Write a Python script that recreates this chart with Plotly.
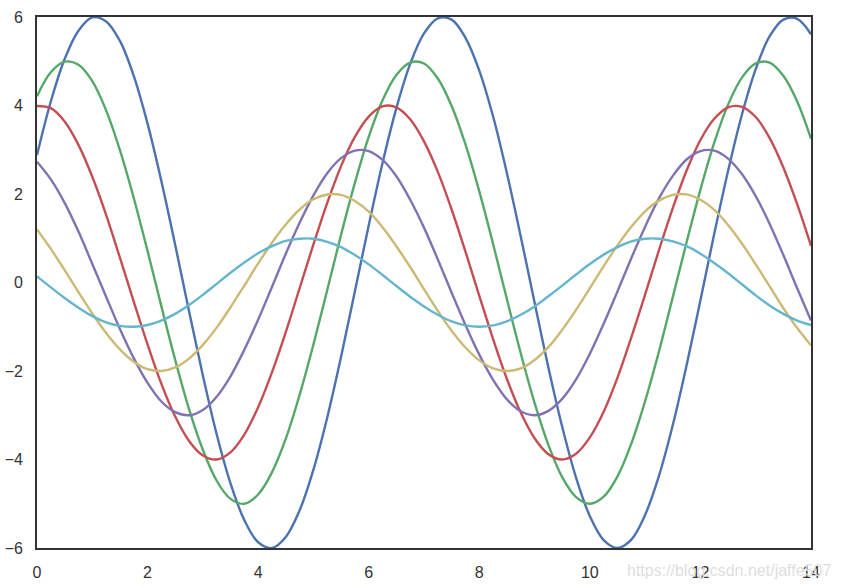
import plotly.graph_objects as go

x_vals = [i * 0.25 for i in range(57)]

s1 = [2.88, 4.09, 5.05, 5.69, 5.99, 5.90, 5.46, 4.67, 3.59, 2.29, 0.85, -0.65, -2.10, -3.43, -4.54,
      -5.37, -5.87, -6.00, -5.75, -5.15, -4.23, -3.05, -1.68, -0.20, 1.29, 2.70, 3.94, 4.94, 5.63,
      5.97, 5.94, 5.53, 4.79, 3.75, 2.47, 1.04, -0.45, -1.92, -3.26, -4.41, -5.28, -5.82, -6.00,
      -5.81, -5.25, -4.37, -3.22, -1.87, -0.40, 1.10, 2.52, 3.79, 4.82, 5.56, 5.94, 5.96, 5.61]
s2 = [4.21, 4.75, 4.99, 4.92, 4.55, 3.89, 2.99, 1.91, 0.71, -0.54, -1.75, -2.86, -3.78, -4.48, -4.89,
      -5.00, -4.79, -4.29, -3.53, -2.54, -1.40, -0.17, 1.08, 2.25, 3.29, 4.12, 4.69, 4.97, 4.95,
      4.61, 3.99, 3.12, 2.06, 0.87, -0.38, -1.60, -2.72, -3.67, -4.40, -4.85, -5.00, -4.84, -4.38,
      -3.64, -2.68, -1.56, -0.33, 0.91, 2.10, 3.16, 4.02, 4.63, 4.95, 4.97, 4.67, 4.09, 3.25]
s3 = [3.99, 3.94, 3.64, 3.11, 2.39, 1.53, 0.56, -0.43, -1.40, -2.29, -3.03, -3.58, -3.91, -4.00, -3.84,
      -3.44, -2.82, -2.03, -1.12, -0.13, 0.86, 1.80, 2.63, 3.29, 3.75, 3.98, 3.96, 3.69, 3.19,
      2.50, 1.65, 0.70, -0.30, -1.28, -2.18, -2.94, -3.52, -3.88, -4.00, -3.87, -3.50, -2.92, -2.15,
      -1.24, -0.27, 0.73, 1.68, 2.53, 3.22, 3.70, 3.96, 3.97, 3.74, 3.27, 2.60, 1.77, 0.83]
s4 = [2.73, 2.33, 1.80, 1.15, 0.42, -0.32, -1.05, -1.71, -2.27, -2.69, -2.93, -3.00, -2.88, -2.58, -2.12,
      -1.52, -0.84, -0.10, 0.65, 1.35, 1.97, 2.47, 2.81, 2.98, 2.97, 2.77, 2.40, 1.87, 1.24,
      0.52, -0.23, -0.96, -1.63, -2.20, -2.64, -2.91, -3.00, -2.90, -2.63, -2.19, -1.61, -0.93, -0.20,
      0.55, 1.26, 1.90, 2.41, 2.78, 2.97, 2.98, 2.80, 2.45, 1.95, 1.33, 0.62, -0.13, -0.86]
s5 = [1.20, 0.76, 0.28, -0.22, -0.70, -1.14, -1.51, -1.79, -1.96, -2.00, -1.92, -1.72, -1.41, -1.02, -0.56,
      -0.07, 0.43, 0.90, 1.31, 1.65, 1.88, 1.99, 1.98, 1.84, 1.60, 1.25, 0.82, 0.35, -0.15,
      -0.64, -1.09, -1.47, -1.76, -1.94, -2.00, -1.94, -1.75, -1.46, -1.07, -0.62, -0.13, 0.37, 0.84,
      1.26, 1.61, 1.85, 1.98, 1.99, 1.87, 1.64, 1.30, 0.88, 0.41, -0.08, -0.58, -1.03, -1.42]
s6 = [0.14, -0.11, -0.35, -0.57, -0.76, -0.90, -0.98, -1.00, -0.96, -0.86, -0.71, -0.51, -0.28, -0.03, 0.22,
      0.45, 0.66, 0.82, 0.94, 0.99, 0.99, 0.92, 0.80, 0.62, 0.41, 0.17, -0.08, -0.32, -0.54,
      -0.73, -0.88, -0.97, -1.00, -0.97, -0.88, -0.73, -0.54, -0.31, -0.07, 0.18, 0.42, 0.63, 0.80,
      0.93, 0.99, 0.99, 0.93, 0.82, 0.65, 0.44, 0.21, -0.04, -0.29, -0.52, -0.71, -0.86, -0.96]

series = [s1, s2, s3, s4, s5, s6]
colors = ["#4C72B0", "#55A868", "#C44E52", "#8172B2", "#CCB974", "#64B5CD"]

x_ticks = [0, 2, 4, 6, 8, 10, 12, 14]
y_ticks = [-6, -4, -2, 0, 2, 4, 6]
y_tick_text = ["\u22126", "\u22124", "\u22122", "0", "2", "4", "6"]

fig = go.Figure()
for s, c in zip(series, colors):
    fig.add_trace(go.Scatter(x=x_vals, y=s, mode="lines",
                             line=dict(color=c, width=2.4, shape="spline", smoothing=1.0),
                             showlegend=False, hoverinfo="skip"))

font_family = "Liberation Sans, Arial, sans-serif"
axis_common = dict(showgrid=False, zeroline=False, showline=True, linecolor="#333333",
                   linewidth=1.6, mirror=True, ticks="", automargin=False,
                   ticklabelstandoff=9,
                   tickfont=dict(family=font_family, size=16, color="#333333"))

fig.update_xaxes(range=[0, 14], tickvals=x_ticks, ticktext=[str(t) for t in x_ticks], **axis_common)
fig.update_yaxes(range=[-6, 6], tickvals=y_ticks, ticktext=y_tick_text, **axis_common)

fig.add_annotation(text="https://blog.csdn.net/jaffe507", xref="paper", yref="paper",
                   x=1.028, y=-0.042, xanchor="right", yanchor="middle", showarrow=False,
                   font=dict(family=font_family, size=16, color="#dedede"))

fig.update_layout(width=841, height=588, margin=dict(l=37, r=30, t=17, b=40),
                  plot_bgcolor="white", paper_bgcolor="white")

fig.write_html("out.html", config={"displayModeBar": False},
               post_script="document.body.style.margin='0';")
